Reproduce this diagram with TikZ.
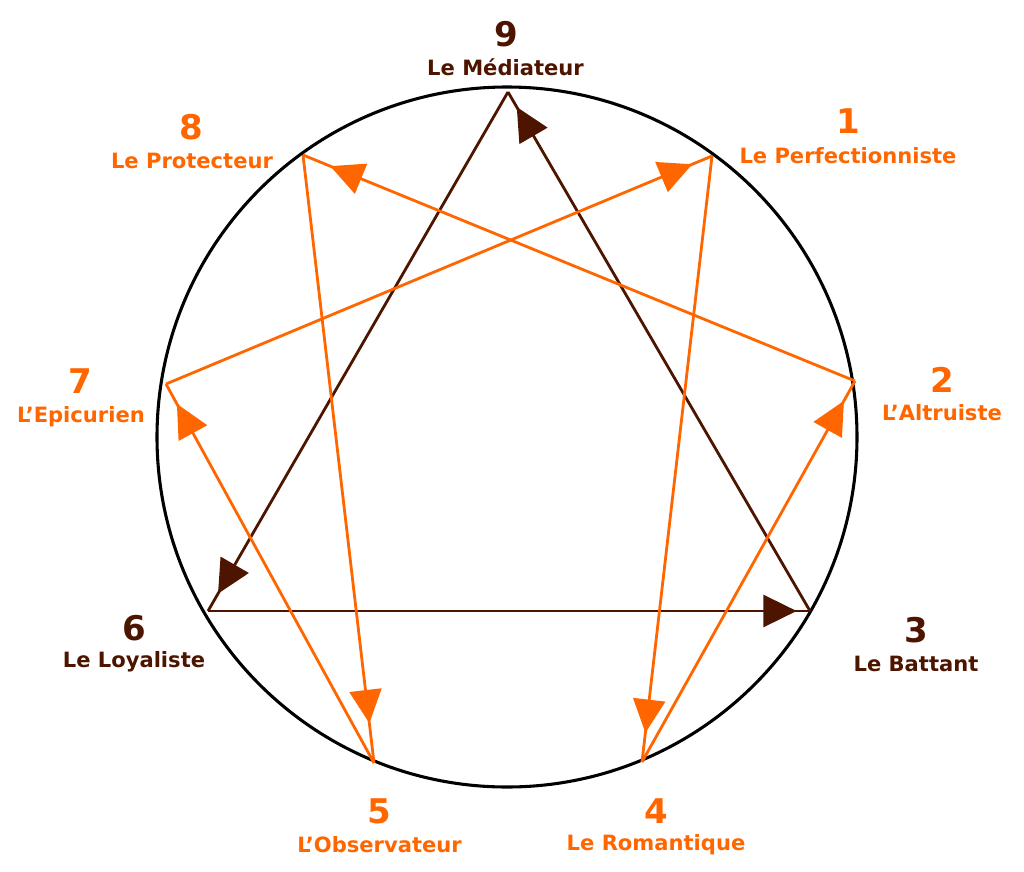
\documentclass[tikz,border=0pt]{standalone}
\usepackage{fontspec}
\setmainfont{DejaVu Sans}
\usepackage{xcolor}
\usetikzlibrary{arrows.meta,decorations.markings}
\definecolor{orangeE}{HTML}{FF6600}
\definecolor{brownE}{HTML}{4D1500}

\begin{document}
\begin{tikzpicture}[x=0.75pt,y=-0.75pt,
    typenum/.style={font=\fontsize{25.5}{25}\selectfont\bfseries,anchor=base},
    typetxt/.style={font=\fontsize{15.8}{16}\selectfont\bfseries,anchor=base},
    chord/.style={line width=2.1pt},
    flow/.style={postaction={decorate},decoration={markings,mark=at position -#1 with {\arrow{Triangle[length=25pt,width=24pt]}}}}]
			\useasboundingbox (0,0) rectangle (1024,871);
			\coordinate (ctr) at (507,437);
			\coordinate (p9) at (508,92);
			\coordinate (p1) at (712,156);
			\coordinate (p2) at (855,381);
			\coordinate (p3) at (810,611);
			\coordinate (p4) at (642,762);
			\coordinate (p5) at (374,763);
			\coordinate (p6) at (208,611);
			\coordinate (p7) at (166,384);
			\coordinate (p8) at (303,155);
			\draw[line width=2.3pt](ctr)circle[radius=262.5pt];
			\draw[brownE,chord,flow=15pt](p9)--(p6);
			\draw[brownE,chord,flow=10pt](p6)--(p3);
			\draw[brownE,chord,flow=13pt](p3)--(p9);
			\draw[orangeE,chord,flow=22pt](p1)--(p4);
			\draw[orangeE,chord,flow=17pt](p4)--(p2);
			\draw[orangeE,chord,flow=22pt](p2)--(p8);
			\draw[orangeE,chord,flow=30pt](p8)--(p5);
			\draw[orangeE,chord,flow=17pt](p5)--(p7);
			\draw[orangeE,chord,flow=16pt](p7)--(p1);
			\node[typenum,brownE](n9) at (506,46){9};
			\node[typetxt,brownE](t9) at (505.5,75){Le Médiateur};
			\node[typenum,orangeE](n1) at (848,133){1};
			\node[typetxt,orangeE](t1) at (848,163){Le Perfectionniste};
			\node[typenum,orangeE](n2) at (942,392){2};
			\node[typetxt,orangeE](t2) at (942,420){L’Altruiste};
			\node[typenum,brownE](n3) at (916,642){3};
			\node[typetxt,brownE](t3) at (916,671){Le Battant};
			\node[typenum,orangeE](n4) at (656,823){4};
			\node[typetxt,orangeE](t4) at (656,850){Le Romantique};
			\node[typenum,orangeE](n5) at (379,823){5};
			\node[typetxt,orangeE](t5) at (379.5,852){L’Observateur};
			\node[typenum,brownE](n6) at (134,640){6};
			\node[typetxt,brownE](t6) at (134,667){Le Loyaliste};
			\node[typenum,orangeE](n7) at (80,393){7};
			\node[typetxt,orangeE](t7) at (81,422){L’Epicurien};
			\node[typenum,orangeE](n8) at (191,139){8};
			\node[typetxt,orangeE](t8) at (192,168){Le Protecteur};
		\end{tikzpicture}
\end{document}
